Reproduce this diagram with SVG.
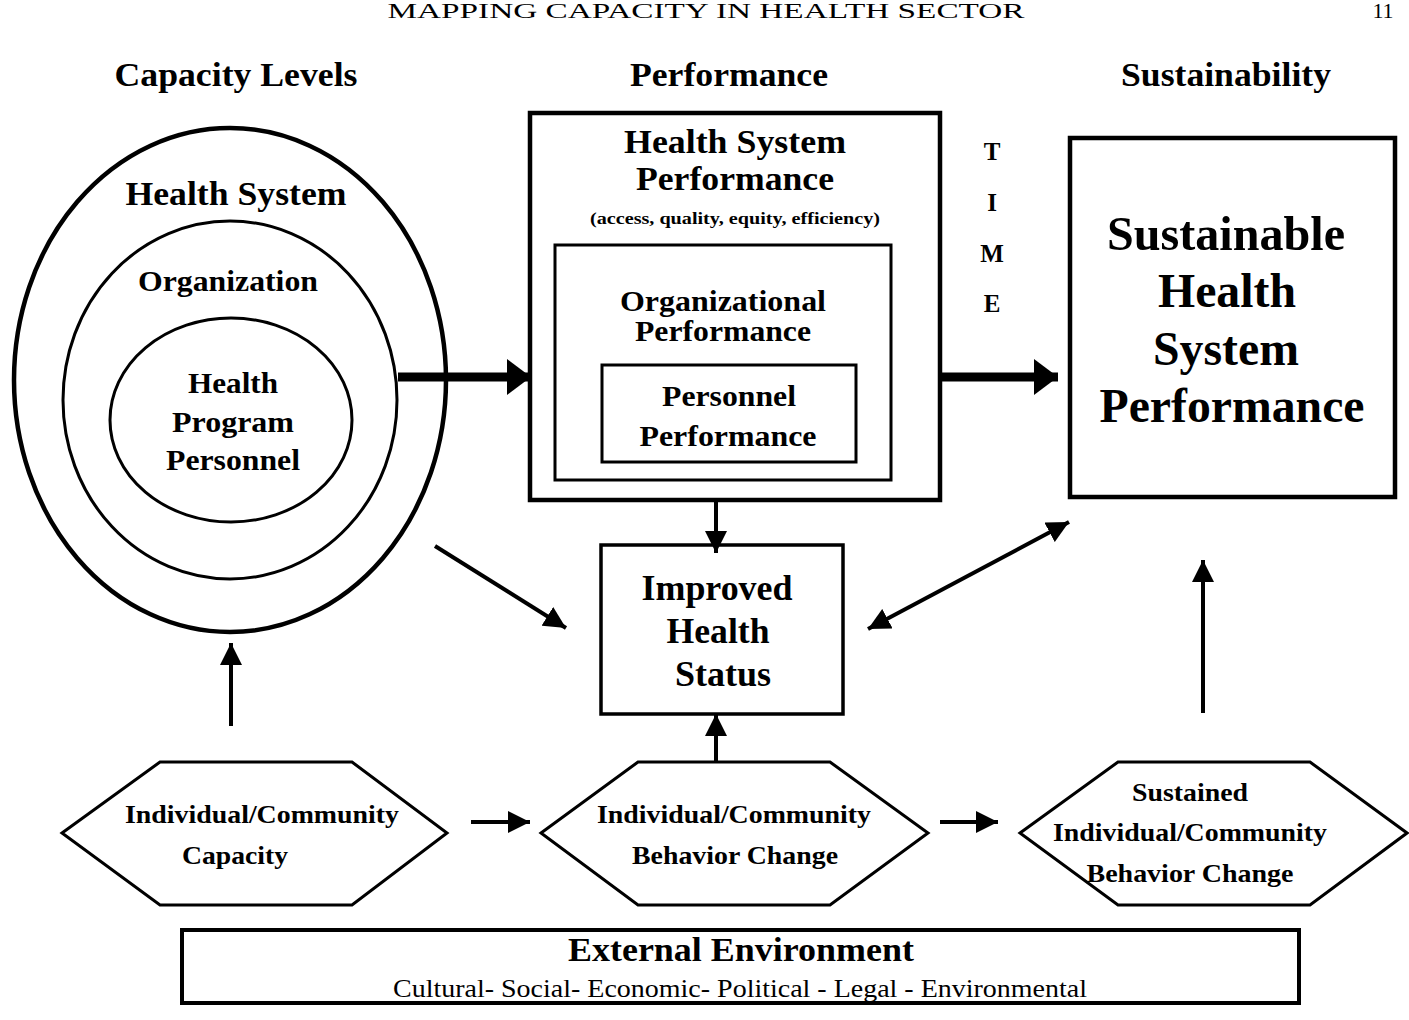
<svg xmlns="http://www.w3.org/2000/svg" width="1409" height="1020" viewBox="0 0 1409 1020">
<defs>
<style>
text{font-family:"Liberation Serif","Times New Roman",serif;fill:#000;text-anchor:middle}
.b{font-weight:bold}
.shape{fill:#fff;stroke:#000}
.conn{stroke:#000;fill:none}
</style>
<marker id="ahs" viewBox="0 0 10 10" refX="10" refY="5" markerWidth="5.5" markerHeight="5.5" orient="auto-start-reverse">
<path d="M0,0 L10,5 L0,10 z" fill="#000"/>
</marker>
<marker id="ahb" viewBox="0 0 10 10" refX="10" refY="5" markerWidth="24" markerHeight="36" markerUnits="userSpaceOnUse" orient="auto" preserveAspectRatio="none">
<path d="M0,0 L10,5 L0,10 z" fill="#000"/>
</marker>
</defs>

<g id="page-header">
<text x="706" y="18" font-size="22" textLength="637" lengthAdjust="spacingAndGlyphs">MAPPING CAPACITY IN HEALTH SECTOR</text>
<text x="1383" y="18" font-size="22">11</text>
</g>

<g id="column-headers">
<text class="b" x="236" y="86" font-size="33" textLength="243" lengthAdjust="spacingAndGlyphs">Capacity Levels</text>
<text class="b" x="729" y="86" font-size="33" textLength="198" lengthAdjust="spacingAndGlyphs">Performance</text>
<text class="b" x="1226" y="86" font-size="33" textLength="210" lengthAdjust="spacingAndGlyphs">Sustainability</text>
</g>

<g id="capacity-levels">
<ellipse class="shape" cx="230" cy="380" rx="216" ry="252" stroke-width="4.5"/>
<ellipse class="shape" cx="230" cy="400" rx="167" ry="179" stroke-width="3"/>
<ellipse class="shape" cx="231" cy="420" rx="121" ry="102" stroke-width="3"/>
<text class="b" x="236" y="205" font-size="33" textLength="221" lengthAdjust="spacingAndGlyphs">Health System</text>
<text class="b" x="228" y="291" font-size="29" textLength="180" lengthAdjust="spacingAndGlyphs">Organization</text>
<text class="b" x="233" y="393" font-size="29" textLength="90" lengthAdjust="spacingAndGlyphs">Health</text>
<text class="b" x="233" y="432" font-size="29" textLength="122" lengthAdjust="spacingAndGlyphs">Program</text>
<text class="b" x="233" y="470" font-size="29" textLength="134" lengthAdjust="spacingAndGlyphs">Personnel</text>
</g>

<g id="health-system-performance">
<rect class="shape" x="530" y="113" width="410" height="387" stroke-width="4.5"/>
<text class="b" x="735" y="153" font-size="34" textLength="222" lengthAdjust="spacingAndGlyphs">Health System</text>
<text class="b" x="735" y="190" font-size="34" textLength="198" lengthAdjust="spacingAndGlyphs">Performance</text>
<text class="b" x="735" y="224" font-size="16" textLength="290" lengthAdjust="spacingAndGlyphs">(access, quality, equity, efficiency)</text>
</g>

<g id="organizational-performance">
<rect class="shape" x="555" y="245" width="336" height="235" stroke-width="3"/>
<text class="b" x="723" y="311" font-size="29" textLength="206" lengthAdjust="spacingAndGlyphs">Organizational</text>
<text class="b" x="723" y="341" font-size="29" textLength="176" lengthAdjust="spacingAndGlyphs">Performance</text>
</g>

<g id="personnel-performance">
<rect class="shape" x="602" y="365" width="254" height="97" stroke-width="3"/>
<text class="b" x="729" y="406" font-size="29" textLength="134" lengthAdjust="spacingAndGlyphs">Personnel</text>
<text class="b" x="728" y="446" font-size="29" textLength="177" lengthAdjust="spacingAndGlyphs">Performance</text>
</g>

<g id="time-label">
<text class="b" x="992" y="160" font-size="25">T</text>
<text class="b" x="992" y="211" font-size="25">I</text>
<text class="b" x="992" y="262" font-size="25">M</text>
<text class="b" x="992" y="312" font-size="25">E</text>
</g>

<g id="sustainable-health-system-performance">
<rect class="shape" x="1070" y="138" width="325" height="359" stroke-width="4.5"/>
<text class="b" x="1226" y="250" font-size="48" textLength="238" lengthAdjust="spacingAndGlyphs">Sustainable</text>
<text class="b" x="1227" y="307" font-size="48" textLength="138" lengthAdjust="spacingAndGlyphs">Health</text>
<text class="b" x="1226" y="365" font-size="48" textLength="146" lengthAdjust="spacingAndGlyphs">System</text>
<text class="b" x="1232" y="422" font-size="48" textLength="265" lengthAdjust="spacingAndGlyphs">Performance</text>
</g>

<g id="improved-health-status">
<rect class="shape" x="601" y="545" width="242" height="169" stroke-width="3.5"/>
<text class="b" x="717" y="600" font-size="36" textLength="151" lengthAdjust="spacingAndGlyphs">Improved</text>
<text class="b" x="718" y="643" font-size="36" textLength="103" lengthAdjust="spacingAndGlyphs">Health</text>
<text class="b" x="723" y="686" font-size="36" textLength="96" lengthAdjust="spacingAndGlyphs">Status</text>
</g>

<g id="community-capacity">
<polygon class="shape" points="62,833 160,762 352,762 447,833 352,905 160,905" stroke-width="3"/>
<text class="b" x="262" y="823" font-size="25" textLength="274" lengthAdjust="spacingAndGlyphs">Individual/Community</text>
<text class="b" x="235" y="864" font-size="25" textLength="106" lengthAdjust="spacingAndGlyphs">Capacity</text>
</g>

<g id="behavior-change">
<polygon class="shape" points="541,833 638,762 830,762 928,833 830,905 638,905" stroke-width="3"/>
<text class="b" x="734" y="823" font-size="25" textLength="274" lengthAdjust="spacingAndGlyphs">Individual/Community</text>
<text class="b" x="735" y="864" font-size="25" textLength="206" lengthAdjust="spacingAndGlyphs">Behavior Change</text>
</g>

<g id="sustained-behavior-change">
<polygon class="shape" points="1020,833 1118,762 1310,762 1407,833 1310,905 1118,905" stroke-width="3"/>
<text class="b" x="1190" y="801" font-size="25" textLength="116" lengthAdjust="spacingAndGlyphs">Sustained</text>
<text class="b" x="1190" y="841" font-size="25" textLength="274" lengthAdjust="spacingAndGlyphs">Individual/Community</text>
<text class="b" x="1190" y="882" font-size="25" textLength="207" lengthAdjust="spacingAndGlyphs">Behavior Change</text>
</g>

<g id="external-environment">
<rect class="shape" x="182" y="930" width="1117" height="73" stroke-width="4"/>
<text class="b" x="741" y="961" font-size="33" textLength="346" lengthAdjust="spacingAndGlyphs">External Environment</text>
<text x="740" y="997" font-size="25" textLength="694" lengthAdjust="spacingAndGlyphs">Cultural- Social- Economic- Political - Legal - Environmental</text>
</g>

<g id="connectors">
<line class="conn" x1="398" y1="377" x2="531" y2="377" stroke-width="9" marker-end="url(#ahb)"/>
<line class="conn" x1="940" y1="377" x2="1058" y2="377" stroke-width="9" marker-end="url(#ahb)"/>
<line class="conn" x1="716" y1="500" x2="716" y2="553" stroke-width="4" marker-end="url(#ahs)"/>
<line class="conn" x1="716" y1="762" x2="716" y2="714" stroke-width="4" marker-end="url(#ahs)"/>
<line class="conn" x1="435" y1="546" x2="566" y2="628" stroke-width="4" marker-end="url(#ahs)"/>
<line class="conn" x1="868" y1="629" x2="1069" y2="522" stroke-width="4" marker-start="url(#ahs)" marker-end="url(#ahs)"/>
<line class="conn" x1="1203" y1="713" x2="1203" y2="560" stroke-width="4" marker-end="url(#ahs)"/>
<line class="conn" x1="231" y1="726" x2="231" y2="643" stroke-width="4" marker-end="url(#ahs)"/>
<line class="conn" x1="471" y1="822" x2="530" y2="822" stroke-width="4" marker-end="url(#ahs)"/>
<line class="conn" x1="940" y1="822" x2="998" y2="822" stroke-width="4" marker-end="url(#ahs)"/>
</g>
</svg>
